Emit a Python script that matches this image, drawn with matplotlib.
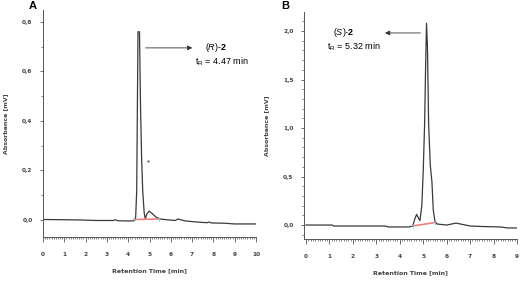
import matplotlib
matplotlib.use("Agg")
import matplotlib.pyplot as plt
from matplotlib.ticker import MultipleLocator, FuncFormatter

plt.rcParams['mathtext.fontset'] = 'custom'
plt.rcParams['mathtext.rm'] = 'Liberation Sans'
plt.rcParams['mathtext.it'] = 'Liberation Sans:italic'
plt.rcParams['mathtext.bf'] = 'Liberation Sans:bold'

# Panel A trace (time in min, absorbance)
time_a = [0.0, 1.0, 1.8, 2.5, 3.3, 3.4, 3.5, 4.0, 4.3, 4.35, 4.40, 4.44, 4.46, 4.53, 4.58, 4.63, 4.68,
          4.75, 4.80, 4.88, 4.98, 5.10, 5.30, 5.50, 5.80, 6.20, 6.35, 6.45, 6.70, 7.20, 7.70, 7.80,
          7.90, 8.50, 9.00, 10.0]
abs_a = [0.002, 0.001, 0.0, -0.002, -0.002, 0.001, -0.003, -0.004, -0.003, 0.01, 0.12, 0.55, 0.76,
         0.76, 0.45, 0.25, 0.12, 0.03, 0.004, 0.025, 0.036, 0.028, 0.012, 0.004, 0.001, -0.002,
         0.004, 0.001, -0.004, -0.008, -0.011, -0.008, -0.012, -0.013, -0.016, -0.016]
stray_a_t = [4.93]
stray_a_v = [0.24]

# Panel B trace
time_b = [0.0, 1.1, 1.2, 2.5, 3.4, 3.5, 4.4, 4.55, 4.65, 4.72, 4.80, 4.86, 4.94, 5.00, 5.06, 5.10,
          5.14, 5.18, 5.23, 5.30, 5.37, 5.43, 5.50, 5.60, 6.00, 6.40, 6.60, 7.00, 7.50, 8.30, 8.60, 9.0]
abs_b = [0.0, 0.0, -0.01, -0.01, -0.01, -0.02, -0.02, -0.01, 0.07, 0.11, 0.07, 0.045, 0.2, 0.55,
         1.05, 1.6, 2.08, 1.85, 1.05, 0.62, 0.45, 0.15, 0.04, 0.01, 0.0, 0.02, 0.01, -0.01, -0.015,
         -0.02, -0.03, -0.03]

# integration baselines
base_a_t = [4.27, 5.45]
base_a_v = [0.002, 0.004]
base_b_t = [4.55, 5.50]
base_b_v = [-0.01, 0.025]

xticks_a = list(range(0, 11))
xticks_b = list(range(0, 10))
yticks_a = [0.0, 0.2, 0.4, 0.6, 0.8]
yticks_b = [0.0, 0.5, 1.0, 1.5, 2.0]

fig = plt.figure(figsize=(5.2, 2.81), dpi=100)

line_col = '#3a3a3a'
comma = FuncFormatter(lambda v, p: f"{v:.1f}".replace('.', ','))


def style(ax, xt, yt):
    for s in ['top', 'right']:
        ax.spines[s].set_visible(False)
    for s in ['left', 'bottom']:
        ax.spines[s].set_linewidth(0.7)
        ax.spines[s].set_color('#555555')
    ax.set_xticks(xt)
    ax.set_yticks(yt)
    ax.xaxis.set_minor_locator(MultipleLocator(0.1))
    ax.yaxis.set_minor_locator(MultipleLocator(0.1))
    ax.yaxis.set_major_formatter(comma)
    ax.tick_params(axis='both', which='major', length=3.5, width=0.6, color='#555555', pad=7,
                   labelsize=4.2, labelcolor='#444444')
    ax.tick_params(axis='y', which='major', pad=5, length=2.5)
    ax.tick_params(axis='both', which='minor', length=1.6, width=0.5, color='#555555')
    for lab in ax.get_xticklabels() + ax.get_yticklabels():
        lab.set_fontweight('bold')


arrow_props = dict(arrowstyle='-|>', color='#333333', lw=0.6, mutation_scale=7)

# Panel A
axA = fig.add_axes([43 / 520, 1 - 237 / 281, 213 / 520, 227 / 281])
axA.plot(time_a, abs_a, color=line_col, lw=0.9)
axA.plot(stray_a_t, stray_a_v, ls='none', marker='.', ms=1.2, color='#555555')
axA.plot(base_a_t, base_a_v, color='#f08080', lw=1.2)
axA.plot(base_a_t, base_a_v, ls='none', marker='|', ms=2.5, color='#40e0d0', mew=0.6)
axA.set_xlim(0, 10)
axA.set_ylim(-0.0687, 0.848)
style(axA, xticks_a, yticks_a)
axA.set_xlabel('Retention Time [min]', fontsize=4.5, fontweight='bold', color='#444444', labelpad=8)
axA.set_ylabel('Absorbance [mV]', fontsize=4.5, fontweight='bold', color='#444444', labelpad=10)
axA.annotate('', xy=(7.14, 0.695), xytext=(4.69, 0.695), arrowprops=arrow_props)
axA.text(7.6, 0.695, r'($\mathit{R}$)-$\mathbf{2}$', fontsize=6.5, va='center', ha='left',
         family='Liberation Sans')
axA.text(7.14, 0.638, r't$_\mathrm{R}$ = 4.47 min', fontsize=6.5, va='center', ha='left',
         family='Liberation Sans')
fig.text(33 / 520, 1 - 6 / 281, 'A', fontsize=8, fontweight='bold', family='Liberation Sans',
         ha='center', va='center')

# Panel B
axB = fig.add_axes([304 / 520, 1 - 239 / 281, 213 / 520, 227 / 281])
axB.plot(time_b, abs_b, color=line_col, lw=0.9)
axB.plot(base_b_t, base_b_v, color='#f08080', lw=1.2)
axB.plot(base_b_t, base_b_v, ls='none', marker='|', ms=2.5, color='#40e0d0', mew=0.6)
axB.set_xlim(-0.085, 9)
axB.set_ylim(-0.144, 2.196)
style(axB, xticks_b, yticks_b)
axB.set_xlabel('Retention Time [min]', fontsize=4.5, fontweight='bold', color='#444444', labelpad=8)
axB.set_ylabel('Absorbance [mV]', fontsize=4.5, fontweight='bold', color='#444444', labelpad=10)
axB.annotate('', xy=(3.25, 1.98), xytext=(5.0, 1.98), arrowprops=arrow_props)
axB.text(1.15, 1.98, r'($\mathit{S}$)-$\mathbf{2}$', fontsize=6.5, va='center', ha='left',
         family='Liberation Sans')
axB.text(0.9, 1.835, r't$_\mathrm{R}$ = 5.32 min', fontsize=6.5, va='center', ha='left',
         family='Liberation Sans')
fig.text(285 / 520, 1 - 6 / 281, 'B', fontsize=8, fontweight='bold', family='Liberation Sans',
         ha='center', va='center')

fig.savefig('out.png', dpi=100)
